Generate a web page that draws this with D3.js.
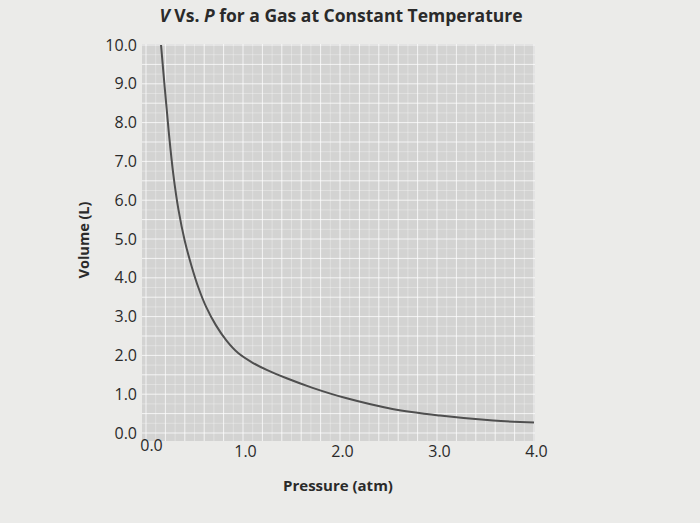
<!DOCTYPE html>
<html>
<head>
<meta charset="utf-8">
<script src="https://cdn.jsdelivr.net/npm/d3@7"></script>
<style>
  html, body { margin: 0; padding: 0; background: #ebebe9; }
  svg { display: block; font-family: "Open Sans", "Noto Sans", sans-serif; }
  .tick text { fill: #2a2a2a; font-size: 16px; font-family: "Open Sans", "Noto Sans", sans-serif; }
</style>
</head>
<body>
<svg id="chart" width="700" height="523"></svg>
<script>
// values
const pressure = [0.155, 0.195, 0.235, 0.28, 0.335, 0.40, 0.47, 0.54, 0.62, 0.72, 0.83, 0.95, 1.10, 1.25, 1.45, 1.71, 2.06, 2.54, 3.03, 3.58, 4.0];
const volume   = [10.0, 8.85, 7.75, 6.7, 5.75, 4.95, 4.3, 3.75, 3.25, 2.78, 2.38, 2.06, 1.81, 1.62, 1.41, 1.17, 0.90, 0.62, 0.45, 0.32, 0.27];
const xTicks = [0, 1, 2, 3, 4];
const yTicks = [0, 1, 2, 3, 4, 5, 6, 7, 8, 9, 10];

const svg = d3.select('#chart');

// plot box
const box = { left: 146, right: 534, top: 45, bottom: 433 };
const x = d3.scaleLinear().domain([0, 4]).range([box.left, box.right]);
const y = d3.scaleLinear().domain([0, 10]).range([box.bottom, box.top]);

// gray grid panel (sticks out a little below the zero line like the original)
svg.append('rect')
    .attr('x', box.left - 4).attr('y', box.top - 1)
    .attr('width', box.right - box.left + 5).attr('height', box.bottom - box.top + 9)
    .attr('fill', '#d3d3d2');

// fine grid then coarser grid
const grid = svg.append('g');
d3.range(0, 4.001, 0.1).forEach(v => {
    grid.append('line')
        .attr('x1', x(v)).attr('x2', x(v))
        .attr('y1', box.top - 1).attr('y2', box.bottom + 8)
        .attr('stroke', '#ffffff')
        .attr('stroke-opacity', Math.abs(v * 5 - Math.round(v * 5)) < 1e-6 ? 0.75 : 0.3)
        .attr('stroke-width', 1);
});
d3.range(0, 10.001, 0.25).forEach(v => {
    grid.append('line')
        .attr('x1', box.left - 4).attr('x2', box.right + 1)
        .attr('y1', y(v)).attr('y2', y(v))
        .attr('stroke', '#ffffff')
        .attr('stroke-opacity', Math.abs(v * 2 - Math.round(v * 2)) < 1e-6 ? 0.75 : 0.3)
        .attr('stroke-width', 1);
});

// axes (labels only)
const xAxis = svg.append('g')
    .attr('transform', `translate(0,${box.bottom + 13})`)
    .call(d3.axisBottom(x).tickValues(xTicks).tickSize(0).tickFormat(d3.format('.1f')));
xAxis.select('.domain').remove();
xAxis.selectAll('.tick text')
    .attr('dy', (d, i) => i === 0 ? '0.1em' : '0.5em')
    .attr('dx', (d, i) => i === 0 ? '5' : '2');

const yAxis = svg.append('g')
    .attr('transform', `translate(${box.left - 6},0)`)
    .call(d3.axisLeft(y).tickValues(yTicks).tickSize(0).tickFormat(d3.format('.1f')));
yAxis.select('.domain').remove();
yAxis.selectAll('.tick text').attr('x', -3);

// the curve
const pts = pressure.map((p, i) => [p, volume[i]]);
svg.append('path')
    .datum(pts)
    .attr('fill', 'none')
    .attr('stroke', '#4f4f4f')
    .attr('stroke-width', 2)
    .attr('d', d3.line()
        .x(d => x(d[0]))
        .y(d => y(d[1]))
        .curve(d3.curveCatmullRom.alpha(0.5)));

// title
const title = svg.append('text')
    .attr('x', 341).attr('y', 22)
    .attr('text-anchor', 'middle')
    .attr('font-size', 17.5)
    .attr('font-weight', 'bold')
    .attr('fill', '#2a2a2a');
title.append('tspan').attr('font-style', 'italic').text('V');
title.append('tspan').text(' Vs. ');
title.append('tspan').attr('font-style', 'italic').text('P');
title.append('tspan').text(' for a Gas at Constant Temperature');

// axis titles
svg.append('text')
    .attr('x', 338).attr('y', 491)
    .attr('text-anchor', 'middle')
    .attr('font-size', 15)
    .attr('font-weight', 'bold')
    .attr('fill', '#2a2a2a')
    .text('Pressure (atm)');

svg.append('text')
    .attr('transform', 'translate(89,240) rotate(-90)')
    .attr('text-anchor', 'middle')
    .attr('font-size', 14.5)
    .attr('font-weight', 'bold')
    .attr('fill', '#2a2a2a')
    .text('Volume (L)');
</script>
</body>
</html>
